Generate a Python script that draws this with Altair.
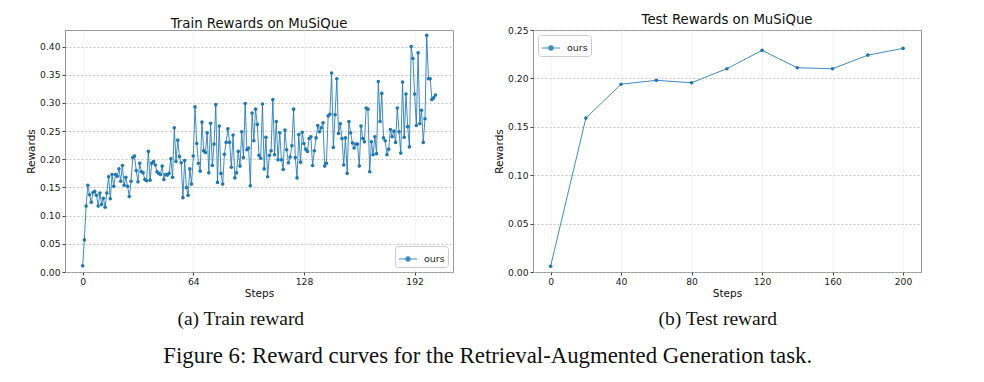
import altair as alt
import pandas as pd

# ---------------- data ----------------
train_rewards = [
    0.011, 0.057, 0.117, 0.154, 0.137, 0.124, 0.141, 0.143, 0.136, 0.117,
    0.140, 0.120, 0.131, 0.115, 0.140, 0.169, 0.130, 0.173, 0.152, 0.173,
    0.170, 0.183, 0.161, 0.189, 0.154, 0.168, 0.152, 0.134, 0.161, 0.203,
    0.206, 0.180, 0.160, 0.193, 0.178, 0.176, 0.164, 0.162, 0.214, 0.163,
    0.193, 0.196, 0.190, 0.178, 0.175, 0.173, 0.188, 0.164, 0.173, 0.172,
    0.175, 0.201, 0.168, 0.256, 0.196, 0.234, 0.205, 0.194, 0.132, 0.198,
    0.150, 0.136, 0.183, 0.156, 0.206, 0.293, 0.228, 0.193, 0.179, 0.266,
    0.215, 0.212, 0.247, 0.176, 0.264, 0.189, 0.227, 0.297, 0.159, 0.259,
    0.175, 0.156, 0.209, 0.230, 0.254, 0.230, 0.186, 0.243, 0.167, 0.176,
    0.214, 0.188, 0.249, 0.203, 0.299, 0.217, 0.220, 0.153, 0.282, 0.233,
    0.289, 0.262, 0.207, 0.202, 0.298, 0.183, 0.239, 0.169, 0.207, 0.215,
    0.306, 0.208, 0.267, 0.199, 0.247, 0.199, 0.182, 0.252, 0.217, 0.194,
    0.204, 0.224, 0.289, 0.203, 0.167, 0.244, 0.195, 0.248, 0.228, 0.218,
    0.214, 0.237, 0.240, 0.189, 0.215, 0.238, 0.260, 0.249, 0.256, 0.265,
    0.188, 0.193, 0.277, 0.280, 0.353, 0.221, 0.279, 0.343, 0.246, 0.263,
    0.237, 0.190, 0.238, 0.175, 0.267, 0.247, 0.229, 0.220, 0.227, 0.227,
    0.188, 0.259, 0.237, 0.231, 0.291, 0.289, 0.178, 0.231, 0.208, 0.240,
    0.210, 0.338, 0.267, 0.317, 0.238, 0.233, 0.208, 0.218, 0.253, 0.240,
    0.250, 0.230, 0.291, 0.249, 0.211, 0.337, 0.239, 0.316, 0.258, 0.222,
    0.400, 0.379, 0.316, 0.260, 0.389, 0.263, 0.287, 0.230, 0.272, 0.420,
    0.343, 0.343, 0.306, 0.309, 0.314,
]
train_steps = list(range(len(train_rewards)))

test_steps = [0, 20, 40, 60, 80, 100, 120, 140, 160, 180, 200]
test_rewards = [0.006, 0.159, 0.194, 0.198, 0.1955, 0.210, 0.229, 0.211, 0.210, 0.224, 0.231]

series_name = "ours"
train_xticks = [0, 64, 128, 192]
test_xticks = [0, 40, 80, 120, 160, 200]
train_yticks = [0.0, 0.05, 0.10, 0.15, 0.20, 0.25, 0.30, 0.35, 0.40]
test_yticks = [0.0, 0.05, 0.10, 0.15, 0.20, 0.25]

BLUE = "#1f77b4"
SANS = "DejaVu Sans"
SERIF = "Liberation Serif"
LEGEND_PATH = ("M-1,0H1M-0.24,0A0.24,0.24,0,1,0,0.24,0"
               "A0.24,0.24,0,1,0,-0.24,0Z")


def panel(steps, rewards, title, xticks, xdomain, yticks, ydomain, legend_orient):
    df = pd.DataFrame({"step": steps, "reward": rewards, "series": series_name})
    x = alt.X("step:Q", title="Steps",
              scale=alt.Scale(domain=xdomain, nice=False, zero=False),
              axis=alt.Axis(values=xticks, format="d", labelFlush=False))
    y = alt.Y("reward:Q", title="Rewards",
              scale=alt.Scale(domain=ydomain, nice=False),
              axis=alt.Axis(values=yticks, format=".2f"))
    color = alt.Color(
        "series:N", title=None,
        scale=alt.Scale(domain=[series_name], range=[BLUE]),
        legend=alt.Legend(
            orient=legend_orient, offset=5, symbolType=LEGEND_PATH,
            symbolSize=330, symbolStrokeWidth=1.1, labelFontSize=9.5,
            labelFont=SANS, labelColor="#222", padding=3, labelOffset=6,
            strokeColor="#cccccc", fillColor="white", cornerRadius=3,
        ),
    )
    base = alt.Chart(df)
    line = base.mark_line(strokeWidth=1, opacity=0.85).encode(x=x, y=y, color=color)
    pts = base.mark_circle(size=13, opacity=1).encode(x=x, y=y, color=color)
    return alt.layer(line, pts).properties(
        width=388, height=242,
        title=alt.Title(title, font=SANS, fontSize=13.3, fontWeight="normal",
                        color="#111", offset=0),
    )


left = panel(train_steps, train_rewards, "Train Rewards on MuSiQue",
             train_xticks, [-10.2, 214.2], train_yticks, [0, 0.4295], "bottom-right")
right = panel(test_steps, test_rewards, "Test Rewards on MuSiQue",
              test_xticks, [-10, 210.2], test_yticks, [0, 0.25], "top-left")

left_fig = alt.vconcat(left, title=alt.Title(
    "(a) Train reward", orient="bottom", anchor="middle", font=SERIF,
    fontSize=19.5, fontWeight="normal", color="#111", offset=11, dx=1)
).resolve_legend(color="independent").resolve_scale(color="independent")
right_fig = alt.vconcat(right, title=alt.Title(
    "(b) Test reward", orient="bottom", anchor="middle", font=SERIF,
    fontSize=19.5, fontWeight="normal", color="#111", offset=11, dx=10)
).resolve_legend(color="independent").resolve_scale(color="independent")

chart = alt.hconcat(left_fig, right_fig, spacing=40).resolve_legend(
    color="independent").resolve_scale(color="independent").properties(
    title=alt.Title(
        "Figure 6: Reward curves for the Retrieval-Augmented Generation task.",
        orient="bottom", anchor="middle", font=SERIF, fontSize=22.8,
        fontWeight="normal", color="#111", offset=16, dx=14),
    padding={"left": 18, "top": 4, "right": 5, "bottom": 5},
).configure_view(
    stroke="#999999", strokeWidth=1
).configure_axis(
    labelFont=SANS, labelFontSize=9.2, labelColor="#222",
    titleFont=SANS, titleFontSize=10.5, titleFontWeight="normal", titleColor="#111",
    tickColor="#444", tickSize=3, labelPadding=2, titlePadding=3,
    domain=False,
    gridDash=[2, 2], gridWidth=0.8,
).configure_axisY(
    gridColor="#b8b8b8"
).configure_axisX(
    gridColor="#e8e8e8", titlePadding=2
).configure_concat(spacing=0)

chart.save("out.html", embed_options={"renderer": "svg", "actions": False})
